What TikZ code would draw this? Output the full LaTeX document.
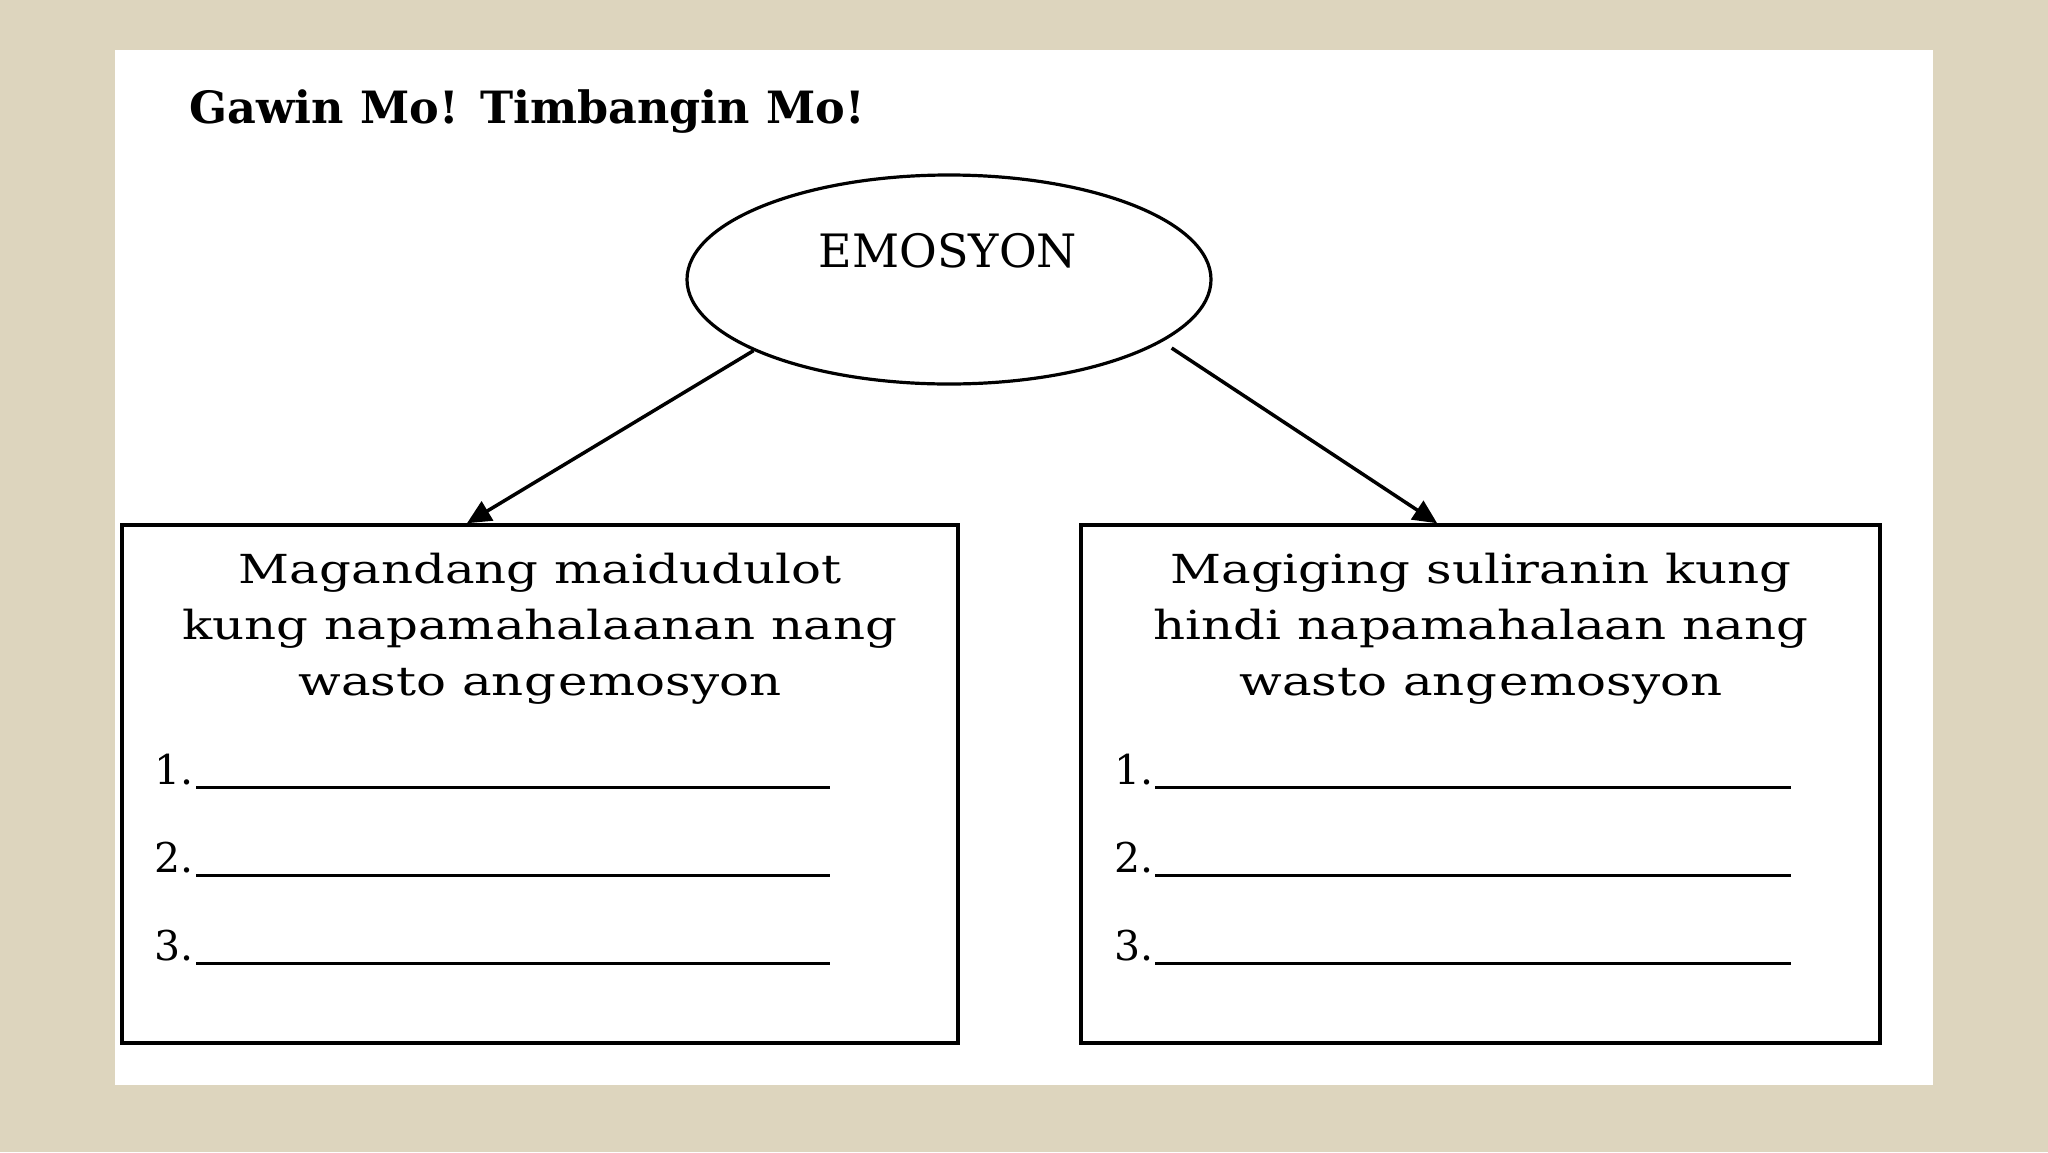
\documentclass[tikz,border=0pt]{standalone}
\usepackage{fontspec}
\setmainfont{DejaVu Serif}
\newfontfamily\bodyf[FakeStretch=1.245]{DejaVu Serif}
\newfontfamily\titlef{DejaVu Serif}
\usetikzlibrary{shapes.geometric,arrows.meta,calc}
\definecolor{beige}{RGB}{221,213,190}
\tikzset{
  txt/.style={inner sep=0pt, anchor=base, font=\bodyf\fontsize{40}{46}\selectfont},
  numtxt/.style={inner sep=0pt, anchor=base west, font=\fontsize{41}{46}\selectfont},
  box/.style={draw=black, line width=3.5pt, rectangle, inner sep=0pt},
  uline/.style={line width=3pt},
  conn/.style={line width=3.5pt, -{Triangle[length=24pt,width=22pt]}},
}
\begin{document}
\begin{tikzpicture}[x=1pt,y=-1pt]
\fill[beige] (0,0) rectangle (2048,1152);
\useasboundingbox (0,0) rectangle (2048,1152);
\fill[white] (115,50) rectangle (1933,1085);
% title
\node[inner sep=0pt, anchor=base west, font=\titlef\bfseries\fontsize{44.5}{50}\selectfont] (title) at (189,123) {Gawin\hspace{1pt} Mo!\hspace{1pt} Timbangin\hspace{1pt} Mo!};
% ellipse
\node[draw=black, line width=3.2pt, ellipse, minimum width=524pt, minimum height=209pt, inner sep=0pt] (emo) at (949,279.5) {};
\node[inner sep=0pt, anchor=base, font=\fontsize{46}{52}\selectfont] (emotxt) at (948,267) {EMOSYON};
% boxes
\node[box, minimum width=836pt, minimum height=518pt] (boxL) at (540,784) {};
\node[box, minimum width=799pt, minimum height=518pt] (boxR) at (1480.5,784) {};
% connectors
\coordinate (tipL) at ($(boxL.north west)!0.413!(boxL.north east)$);
\coordinate (tipR) at ($(boxR.north west)!0.446!(boxR.north east)$);
\draw[conn] (emo.-160) -- (tipL);
\draw[conn] ($(emo.-16.5)+(8,7)$) -- (tipR);
% left text
\node[txt] (l1) at (540,583) {Magandang maidudulot};
\node[txt] (l2) at (540,639) {kung napamahalaanan nang};
\node[txt] (l3) at (540,695) {wasto ang\hspace{3pt}emosyon};
% right text
\node[txt] (r1) at (1481,583) {Magiging suliranin kung};
\node[txt] (r2) at (1481,639) {hindi napamahalaan nang};
\node[txt] (r3) at (1481,695) {wasto ang\hspace{3pt}emosyon};
% numbered blanks left
\node[numtxt] (nL1) at (154,784) {1.};
\node[numtxt] (nL2) at (154,872) {2.};
\node[numtxt] (nL3) at (154,960) {3.};
\draw[uline] (196,787) -- (830,787);
\draw[uline] (196,875) -- (830,875);
\draw[uline] (196,963) -- (830,963);
% numbered blanks right
\node[numtxt] (nR1) at (1114,784) {1.};
\node[numtxt] (nR2) at (1114,872) {2.};
\node[numtxt] (nR3) at (1114,960) {3.};
\draw[uline] (1155,787) -- (1791,787);
\draw[uline] (1155,875) -- (1791,875);
\draw[uline] (1155,963) -- (1791,963);
\end{tikzpicture}
\end{document}
